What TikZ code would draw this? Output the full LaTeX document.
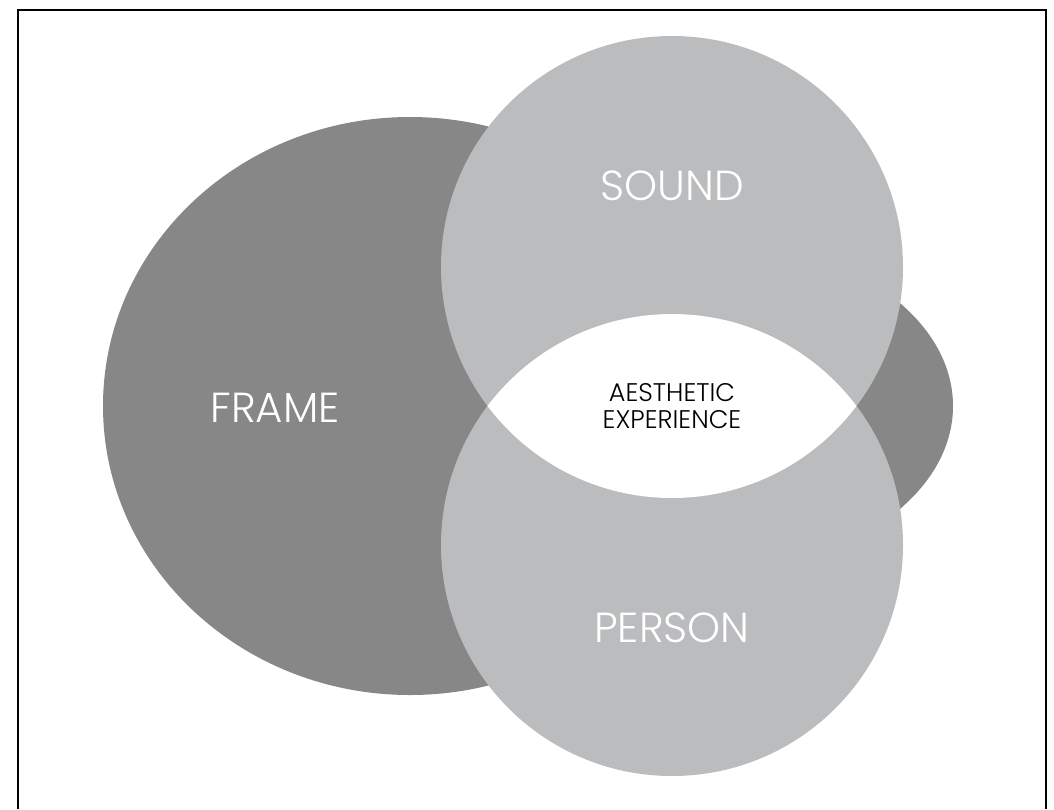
\documentclass[tikz,border=0pt]{standalone}
\usepackage{fontspec}
\setmainfont{Poppins}[UprightFont={* Light}]
\definecolor{framegray}{RGB}{135,135,135}
\definecolor{circlegray}{RGB}{187,188,190}
\begin{document}
\begin{tikzpicture}[x=1pt,y=-1pt,
  biglabel/.style={text=white,font=\fontsize{42}{48}\selectfont,inner sep=0pt},
  smalllabel/.style={text=black,font=\fontsize{25.5}{27}\selectfont,inner sep=0pt,align=center}]
\useasboundingbox (0,0) rectangle (1054,809);
\fill[white] (0,0) rectangle (1054,809);
% frame border
\draw[line width=2pt] (18,809) -- (18,10) -- (1046,10) -- (1046,809);
% FRAME blob (union of two ellipses)
\fill[framegray] (410,406) ellipse [x radius=307, y radius=289];
\fill[framegray] (700,406) ellipse [x radius=253, y radius=168];
% circles
\fill[circlegray] (672,267) circle [radius=231];
\fill[circlegray] (672,545) circle [radius=231];
% lens
\begin{scope}
  \clip (672,267) circle [radius=231];
  \fill[white] (672,545) circle [radius=231];
\end{scope}
% labels
\node[biglabel] (sound) at (672,186) {SOUND};
\node[biglabel] (frame) at (275,408) {FRAME};
\node[biglabel] (person) at (672,628) {PERSON};
\node[smalllabel] (aesth) at (672,406) {AESTHETIC\\EXPERIENCE};
\end{tikzpicture}
\end{document}
